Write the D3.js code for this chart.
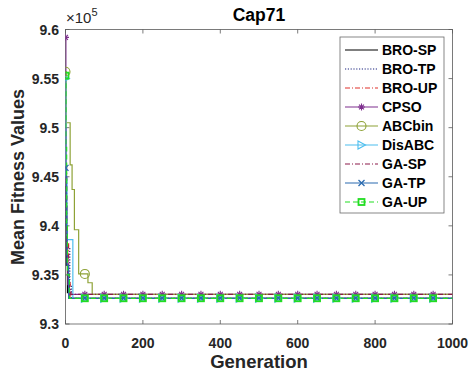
<!DOCTYPE html>
<html>
<head>
<meta charset="utf-8">
<script src="https://cdn.jsdelivr.net/npm/d3@7"></script>
<style>
  body { margin: 0; background: #fff; }
  text { font-family: "Liberation Sans", Arial, sans-serif; font-weight: bold; }
</style>
</head>
<body>
<svg id="chart" width="474" height="375"></svg>
<script>
// step-curve breakpoints [generation, mean fitness / 1e5]
const broSP  = [[0, 9.440], [2, 9.360], [5, 9.332], [9, 9.3262], [1000, 9.3262]];
const broTP  = [[0, 9.450], [2, 9.400], [5, 9.378], [11, 9.340], [15, 9.3262], [1000, 9.3262]];
const broUP  = [[0, 9.430], [3, 9.383], [8, 9.342], [12, 9.3262], [1000, 9.3262]];
const cpso   = [[0, 9.592], [1, 9.500], [2, 9.420], [4, 9.370], [6, 9.340], [8, 9.3302], [1000, 9.3302]];
const abcbin = [[0, 9.557], [2, 9.505], [12, 9.462], [17, 9.437], [23, 9.396], [34, 9.351], [58, 9.342], [69, 9.3302], [1000, 9.3302]];
const disABC = [[0, 9.550], [1, 9.450], [4, 9.386], [19, 9.3262], [1000, 9.3262]];
const gaSP   = [[0, 9.460], [3, 9.380], [6, 9.350], [10, 9.335], [14, 9.3302], [1000, 9.3302]];
const gaTP   = [[0, 9.459], [2, 9.400], [4, 9.360], [8, 9.3262], [1000, 9.3262]];
const gaUP   = [[0, 9.553], [1, 9.480], [3, 9.400], [5, 9.350], [10, 9.3262], [1000, 9.3262]];

const everyFifty = [0, 50, 100, 150, 200, 250, 300, 350, 400, 450, 500, 550, 600, 650, 700, 750, 800, 850, 900, 950];
const abcMarks = [0, 50];

const yTicks = [9.3, 9.35, 9.4, 9.45, 9.5, 9.55, 9.6];
const xTicks = [0, 200, 400, 600, 800, 1000];

const series = [
  {name: "BRO-SP", data: broSP,  color: "#000000", dash: null,      marker: null,   marks: []},
  {name: "BRO-TP", data: broTP,  color: "#1a237e", dash: "1.2,1.6", marker: null,   marks: []},
  {name: "BRO-UP", data: broUP,  color: "#e0312b", dash: "5,2,1,2", marker: null,   marks: []},
  {name: "CPSO",   data: cpso,   color: "#7E2F8E", dash: null,      marker: "star", marks: everyFifty},
  {name: "ABCbin", data: abcbin, color: "#8ea236", dash: null,      marker: "circle", marks: abcMarks},
  {name: "DisABC", data: disABC, color: "#4DBEEE", dash: null,      marker: "tri",  marks: everyFifty},
  {name: "GA-SP",  data: gaSP,   color: "#8b1a4a", dash: "5,2,1,2", marker: null,   marks: []},
  {name: "GA-TP",  data: gaTP,   color: "#2a6bb0", dash: null,      marker: "x",    marks: everyFifty},
  {name: "GA-UP",  data: gaUP,   color: "#22dd22", dash: "5,3",     marker: "square", marks: everyFifty}
];

const svg = d3.select("#chart");
const m = {left: 65.5, right: 452.5, top: 29.5, bottom: 324};

const x = d3.scaleLinear().domain([0, 1000]).range([m.left, m.right]);
const y = d3.scaleLinear().domain([9.3, 9.6]).range([m.bottom, m.top]);

svg.append("clipPath").attr("id", "clip")
  .append("rect").attr("x", m.left).attr("y", m.top)
  .attr("width", m.right - m.left).attr("height", m.bottom - m.top);

const line = d3.line().x(d => x(d[0])).y(d => y(d[1])).curve(d3.curveStepAfter);

function valueAt(data, g) {
  let v = data[0][1];
  data.forEach(d => { if (d[0] <= g) v = d[1]; });
  return v;
}

function drawMarker(g, type, cx, cy, color) {
  if (type === "star") {
    const p = 3.5;
    g.append("path").attr("d", `M${cx-p},${cy}H${cx+p}M${cx},${cy-p}V${cy+p}M${cx-p*0.7},${cy-p*0.7}L${cx+p*0.7},${cy+p*0.7}M${cx-p*0.7},${cy+p*0.7}L${cx+p*0.7},${cy-p*0.7}`)
      .attr("stroke", color).attr("stroke-width", 1.1).attr("fill", "none");
  } else if (type === "circle") {
    g.append("circle").attr("cx", cx).attr("cy", cy).attr("r", 4.5)
      .attr("stroke", color).attr("stroke-width", 1.1).attr("fill", "none");
  } else if (type === "tri") {
    g.append("path").attr("d", `M${cx-3.5},${cy-4}L${cx+4},${cy}L${cx-3.5},${cy+4}Z`)
      .attr("stroke", color).attr("stroke-width", 1.1).attr("fill", "none");
  } else if (type === "x") {
    const p = 3;
    g.append("path").attr("d", `M${cx-p},${cy-p}L${cx+p},${cy+p}M${cx-p},${cy+p}L${cx+p},${cy-p}`)
      .attr("stroke", color).attr("stroke-width", 1.3).attr("fill", "none");
  } else if (type === "square") {
    g.append("rect").attr("x", cx - 3).attr("y", cy - 3).attr("width", 6).attr("height", 6)
      .attr("stroke", color).attr("stroke-width", 1.8).attr("fill", "none");
  }
}

// axes box and ticks
const axisColor = "#5a5a5a";
const tickLen = 4;
svg.append("rect").attr("x", m.left).attr("y", m.top)
  .attr("width", m.right - m.left).attr("height", m.bottom - m.top)
  .attr("fill", "none").attr("stroke", axisColor).attr("stroke-width", 0.8);

xTicks.forEach(t => {
  svg.append("line").attr("x1", x(t)).attr("x2", x(t)).attr("y1", m.bottom).attr("y2", m.bottom - tickLen)
    .attr("stroke", axisColor).attr("stroke-width", 0.8);
  svg.append("line").attr("x1", x(t)).attr("x2", x(t)).attr("y1", m.top).attr("y2", m.top + tickLen)
    .attr("stroke", axisColor).attr("stroke-width", 0.8);
  svg.append("text").attr("x", x(t)).attr("y", 348).attr("text-anchor", "middle")
    .attr("font-size", 14).attr("fill", "#262626").text(t);
});
yTicks.forEach(t => {
  svg.append("line").attr("x1", m.left).attr("x2", m.left + tickLen).attr("y1", y(t)).attr("y2", y(t))
    .attr("stroke", axisColor).attr("stroke-width", 0.8);
  svg.append("line").attr("x1", m.right).attr("x2", m.right - tickLen).attr("y1", y(t)).attr("y2", y(t))
    .attr("stroke", axisColor).attr("stroke-width", 0.8);
  svg.append("text").attr("x", 59).attr("y", y(t) + 5).attr("text-anchor", "end")
    .attr("font-size", 14).attr("fill", "#262626").text(t);
});

// exponent label
const ex = svg.append("text").attr("x", 66).attr("y", 23).attr("font-size", 15)
  .attr("fill", "#262626").style("font-weight", "normal");
ex.append("tspan").text("\u00d710");
ex.append("tspan").attr("dy", -7).attr("font-size", 11).text("5");

// series
const plot = svg.append("g").attr("clip-path", "url(#clip)");
series.forEach(s => {
  plot.append("path").datum(s.data).attr("d", line)
    .attr("fill", "none").attr("stroke", s.color).attr("stroke-width", 1.2)
    .attr("stroke-dasharray", s.dash);
});
series.forEach(s => {
  const mg = plot.append("g");
  s.marks.forEach(g => drawMarker(mg, s.marker, x(g), y(valueAt(s.data, g)), s.color));
});

// titles
svg.append("text").attr("x", 259).attr("y", 21).attr("text-anchor", "middle")
  .attr("font-size", 17.5).attr("fill", "#000").text("Cap71");
svg.append("text").attr("x", 259).attr("y", 368).attr("text-anchor", "middle")
  .attr("font-size", 18.5).attr("fill", "#262626").text("Generation");
svg.append("text").attr("transform", "translate(24,177) rotate(-90)").attr("text-anchor", "middle")
  .attr("font-size", 18).attr("fill", "#262626").text("Mean Fitness Values");

// legend
const lg = svg.append("g");
lg.append("rect").attr("x", 340).attr("y", 37).attr("width", 104).attr("height", 176)
  .attr("fill", "#fff").attr("stroke", "#6a6a6a").attr("stroke-width", 0.8);
series.forEach((s, i) => {
  const ly = 50 + i * 19;
  lg.append("line").attr("x1", 345).attr("x2", 378).attr("y1", ly).attr("y2", ly)
    .attr("stroke", s.color).attr("stroke-width", 1.2).attr("stroke-dasharray", s.dash);
  if (s.marker) drawMarker(lg, s.marker, 361.5, ly, s.color);
  lg.append("text").attr("x", 382).attr("y", ly + 5).attr("font-size", 14)
    .attr("fill", "#000").text(s.name);
});
</script>
</body>
</html>
